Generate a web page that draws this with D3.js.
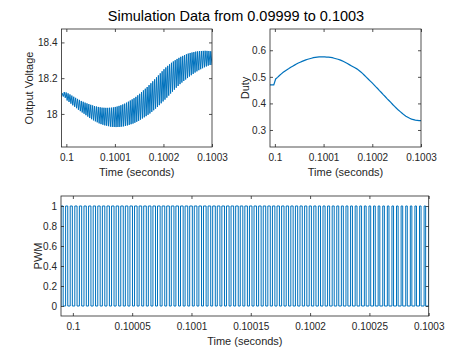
<!DOCTYPE html>
<html><head><meta charset="utf-8">
<script src="https://cdn.jsdelivr.net/npm/d3@7"></script>
<style>
html,body{margin:0;padding:0;background:#fff;}
svg{display:block;font-family:"Liberation Sans",Arial,Helvetica,sans-serif;}
</style></head><body>
<svg id="c" width="474" height="355"></svg>
<script>
// ---- data ----
const titleText = "Simulation Data from 0.09999 to 0.1003";
const tStart = 0.09999, tEnd = 0.1003;
const switchPeriod = 3.875e-6; // one PWM cycle (s)
// duty per switching cycle
const dutyCycle = [0.470,0.470,0.470,0.492,0.498,0.505,0.511,0.517,0.522,0.527,
  0.531,0.536,0.540,0.544,0.548,0.552,0.555,0.558,0.561,0.564,
  0.566,0.568,0.570,0.572,0.573,0.574,0.575,0.575,0.575,0.575,
  0.5745,0.574,0.573,0.572,0.570,0.568,0.566,0.564,0.561,0.558,
  0.554,0.550,0.546,0.542,0.538,0.534,0.530,0.525,0.519,0.513,
  0.506,0.499,0.492,0.485,0.478,0.471,0.463,0.456,0.448,0.441,
  0.433,0.426,0.418,0.411,0.404,0.396,0.389,0.382,0.375,0.369,
  0.363,0.357,0.352,0.348,0.344,0.341,0.339,0.337,0.336,0.335];
// output voltage: mean level and peak-to-peak ripple per cycle
const voltMid = [18.105,18.110,18.105,18.095,18.088,18.080,18.072,18.065,18.058,18.051,
  18.044,18.038,18.032,18.026,18.020,18.014,18.009,18.004,18.000,17.996,
  17.992,17.989,17.987,17.985,17.984,17.983,17.982,17.982,17.983,17.984,
  17.986,17.988,17.991,17.994,17.998,18.002,18.007,18.012,18.017,18.023,
  18.030,18.037,18.045,18.053,18.061,18.069,18.078,18.087,18.097,18.107,
  18.117,18.127,18.138,18.149,18.160,18.170,18.180,18.190,18.200,18.209,
  18.218,18.227,18.235,18.243,18.250,18.257,18.263,18.269,18.275,18.280,
  18.285,18.290,18.294,18.298,18.301,18.304,18.307,18.309,18.311,18.312];
const voltRipple = [0.020,0.025,0.030,0.040,0.042,0.045,0.048,0.050,0.052,0.055,
  0.057,0.060,0.062,0.066,0.070,0.074,0.077,0.080,0.083,0.086,
  0.090,0.092,0.095,0.098,0.100,0.103,0.106,0.109,0.112,0.115,
  0.118,0.121,0.124,0.127,0.130,0.133,0.136,0.139,0.142,0.145,
  0.148,0.151,0.154,0.157,0.160,0.163,0.166,0.169,0.171,0.173,
  0.175,0.177,0.178,0.179,0.180,0.180,0.178,0.175,0.172,0.169,
  0.165,0.161,0.157,0.153,0.149,0.145,0.141,0.137,0.132,0.127,
  0.122,0.117,0.112,0.107,0.102,0.097,0.092,0.087,0.082,0.077];
const xTicksTop = [0.1, 0.1001, 0.1002, 0.1003];
const xTickLabelsTop = ["0.1","0.1001","0.1002","0.1003"];
const xTicksBottom = [0.1, 0.10005, 0.1001, 0.10015, 0.1002, 0.10025, 0.1003];
const xTickLabelsBottom = ["0.1","0.10005","0.1001","0.10015","0.1002","0.10025","0.1003"];
const voltTicks = [18, 18.2, 18.4];
const voltTickLabels = ["18","18.2","18.4"];
const dutyTicks = [0.3, 0.4, 0.5, 0.6];
const dutyTickLabels = ["0.3","0.4","0.5","0.6"];
const pwmTicks = [0, 0.2, 0.4, 0.6, 0.8, 1];
const pwmTickLabels = ["0","0.2","0.4","0.6","0.8","1"];

// ---- build series from the per-cycle data ----
const cycleStart = dutyCycle.map((d,i)=>tStart + i*switchPeriod);
const voltPts = [];
dutyCycle.forEach((d,i)=>{
  voltPts.push([cycleStart[i], voltMid[i]-voltRipple[i]/2]);
  voltPts.push([cycleStart[i]+d*switchPeriod, voltMid[i]+voltRipple[i]/2]);
});
voltPts.push([tEnd, voltMid[voltMid.length-1]-voltRipple[voltRipple.length-1]/2]);
const dutyPts = dutyCycle.map((d,i)=>[cycleStart[i], d]);
dutyPts.push([tEnd, dutyCycle[dutyCycle.length-1]]);
const pwmPts = [];
dutyCycle.forEach((d,i)=>{
  const t0 = cycleStart[i], t1 = t0 + d*switchPeriod;
  pwmPts.push([t0,0],[t0,1],[t1,1],[t1,0]);
});
pwmPts.push([tEnd,0],[tEnd,1]);

// ---- drawing ----
const svg = d3.select("#c");
const axCol = "#262626", lineCol = "#0072BD";

function panel(id, xr, yr, xdom, ydom, xt, xtl, yt, ytl, ylabel, pts, lw){
  const x = d3.scaleLinear().domain(xdom).range(xr);
  const y = d3.scaleLinear().domain(ydom).range(yr);
  const g = svg.append("g");
  g.append("clipPath").attr("id",id).append("rect")
    .attr("x",xr[0]).attr("y",yr[1]).attr("width",xr[1]-xr[0]).attr("height",yr[0]-yr[1]);
  g.append("path").datum(pts)
    .attr("clip-path",`url(#${id})`)
    .attr("fill","none").attr("stroke",lineCol).attr("stroke-width",lw)
    .attr("stroke-linejoin","miter")
    .attr("d", d3.line().x(d=>x(d[0])).y(d=>y(d[1])));
  const fmt = (vals, labels)=> (v)=>labels[vals.indexOf(v)];
  const styleAxis = sel=>{
    sel.select(".domain").remove();
    sel.selectAll(".tick line").attr("stroke",axCol).attr("stroke-width",0.8);
    sel.selectAll(".tick text").attr("fill",axCol).style("font-size","10px")
      .style("font-family","'Liberation Sans',Arial,sans-serif");
  };
  g.append("g").attr("transform",`translate(0,${yr[0]})`)
    .call(d3.axisBottom(x).tickValues(xt).tickFormat(fmt(xt,xtl)).tickSize(-3).tickPadding(7)).call(styleAxis);
  g.append("g").attr("transform",`translate(0,${yr[1]})`)
    .call(d3.axisTop(x).tickValues(xt).tickFormat("").tickSize(-3)).call(styleAxis);
  g.append("g").attr("transform",`translate(${xr[0]},0)`)
    .call(d3.axisLeft(y).tickValues(yt).tickFormat(fmt(yt,ytl)).tickSize(-3).tickPadding(4)).call(styleAxis);
  g.append("g").attr("transform",`translate(${xr[1]},0)`)
    .call(d3.axisRight(y).tickValues(yt).tickFormat("").tickSize(-3)).call(styleAxis);
  g.append("rect").attr("x",xr[0]).attr("y",yr[1]).attr("width",xr[1]-xr[0]).attr("height",yr[0]-yr[1])
    .attr("fill","none").attr("stroke",axCol).attr("stroke-width",0.8);
  g.append("text").attr("x",(xr[0]+xr[1])/2).attr("y",yr[0]+29)
    .attr("text-anchor","middle").attr("fill",axCol).style("font-size","11px").text("Time (seconds)");
  return {g, x, y};
}

const p1 = panel("c1",[61.5,212],[147,29],[tStart,tEnd],[17.815,18.475],
  xTicksTop,xTickLabelsTop,voltTicks,voltTickLabels,"Output Voltage",voltPts,1);
svg.append("text").attr("transform","translate(33,88) rotate(-90)").attr("text-anchor","middle")
  .attr("fill",axCol).style("font-size","11px").text("Output Voltage");

const p2 = panel("c2",[270,421],[147,29],[tStart,tEnd],[0.236,0.68],
  xTicksTop,xTickLabelsTop,dutyTicks,dutyTickLabels,"Duty",dutyPts,1.2);
svg.append("text").attr("transform","translate(249,88) rotate(-90)").attr("text-anchor","middle")
  .attr("fill",axCol).style("font-size","11px").text("Duty");

const p3 = panel("c3",[61,428.7],[316,196],[tStart,tEnd],[-0.1,1.1],
  xTicksBottom,xTickLabelsBottom,pwmTicks,pwmTickLabels,"PWM",pwmPts,1);
svg.append("text").attr("transform","translate(42,256) rotate(-90)").attr("text-anchor","middle")
  .attr("fill",axCol).style("font-size","11px").text("PWM");

svg.append("text").attr("x",236).attr("y",21).attr("text-anchor","middle")
  .attr("fill","#000").style("font-size","14.5px").text(titleText);
</script>
</body></html>
